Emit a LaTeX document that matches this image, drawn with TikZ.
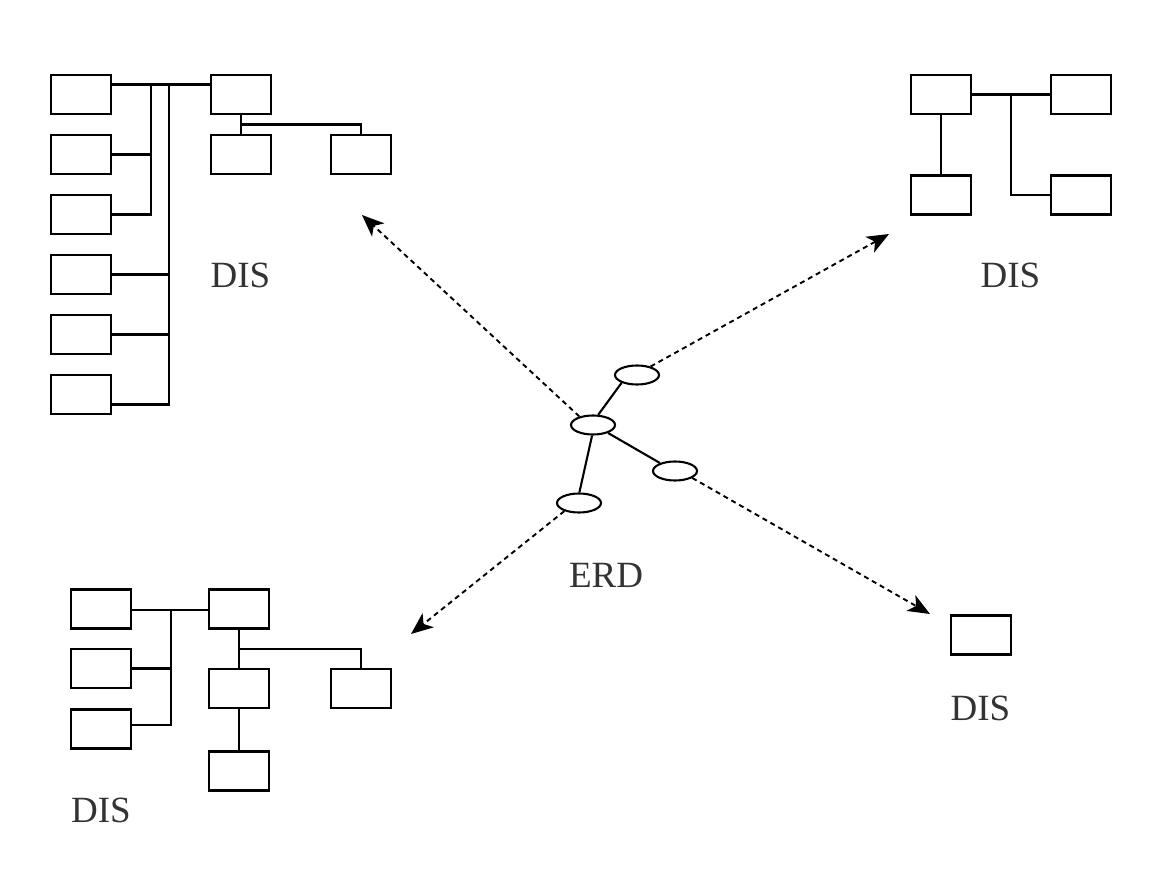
\documentclass[tikz,border=0pt]{standalone}
\usepackage{fontspec}
\setmainfont{Liberation Serif}
\usetikzlibrary{shapes.geometric,arrows.meta,calc}
\definecolor{txt}{HTML}{333333}
\tikzset{
  box/.style={draw, line width=2.4pt, minimum width=60pt, minimum height=39pt, inner sep=0pt},
  ell/.style={draw, ellipse, line width=2.1pt, minimum width=44pt, minimum height=19pt, inner sep=0pt},
  link/.style={line width=2.3pt},
  elink/.style={line width=2.1pt},
  dasharrow/.style={line width=1.9pt, dash pattern=on 5pt off 4pt, -{Stealth[length=22pt,width=18pt,inset=6pt]}},
  lbl/.style={inner sep=0pt, text=txt, font=\fontsize{37}{40}\selectfont}
}
\begin{document}
\begin{tikzpicture}[x=1pt,y=-1pt]
\useasboundingbox (0,0) rectangle (1172,882);
\fill[white] (0,0) rectangle (1172,882);

% ---- top-left cluster ----
\node[box] (L1) at (81,94.5) {};
\node[box] (L2) at (81,154.5) {};
\node[box] (L3) at (81,214.5) {};
\node[box] (L4) at (81,274.5) {};
\node[box] (L5) at (81,334.5) {};
\node[box] (L6) at (81,394.5) {};
\node[box] (T1) at (241,94.5) {};
\node[box] (T2) at (241,154.5) {};
\node[box] (T3) at (361,154.5) {};
\coordinate (b1) at (151,84.5);
\coordinate (b2) at (169,84.5);
\draw[link] ([yshift=10pt]L1.east) -- ([yshift=10pt]T1.west);
\draw[link] (L2.east) -- (L2.east -| b1);
\draw[link] (L3.east) -| (b1);
\draw[link] ([xshift=-2pt]L4.east) -- (L4.east -| b2);
\draw[link] ([xshift=-2pt]L5.east) -- (L5.east -| b2);
\draw[link] ([yshift=-10pt]L6.east) -| (b2);
\draw[link] (T1.south) -- (T2.north);
\coordinate (j1) at ($(T1.south)!0.5!(T2.north)$);
\draw[link] (j1) -| (T3.north);
\node[lbl] (dis1) at (240.5,275) {DIS};

% ---- top-right cluster ----
\node[box] (A) at (941,94.5) {};
\node[box] (B) at (1081,94.5) {};
\node[box] (C) at (941,195) {};
\node[box] (D) at (1081,195) {};
\draw[link] (A.east) -- (B.west);
\coordinate (b3) at ($(A.east)!0.5!(B.west)$);
\draw[link] (b3) |- (D.west);
\draw[link] (A.south) -- (C.north);
\node[lbl] (dis2) at (1010.5,275) {DIS};

% ---- bottom-left cluster ----
\node[box] (P1) at (101,609) {};
\node[box] (P2) at (101,668.5) {};
\node[box] (P3) at (101,729) {};
\node[box] (Q1) at (239,609) {};
\node[box] (Q2) at (239,688.5) {};
\node[box] (Q3) at (361,688.5) {};
\node[box] (Q4) at (239,771) {};
\coordinate (b4) at (171,610);
\draw[link] ([yshift=-1pt]P1.east) -- ([yshift=-1pt]Q1.west);
\draw[link] (P2.east) -- (P2.east -| b4);
\draw[link] ([yshift=4pt]P3.east) -| (b4);
\draw[link] (Q1.south) -- (Q2.north);
\coordinate (j2) at ($(Q1.south)!0.5!(Q2.north)$);
\draw[link] (j2) -| (Q3.north);
\draw[link] (Q2.south) -- (Q4.north);
\node[lbl] (dis3) at (101,810) {DIS};

% ---- bottom-right ----
\node[box] (R) at (981,635) {};
\node[lbl] (dis4) at (980.5,708.5) {DIS};

% ---- ERD ----
\node[ell] (E0) at (593,425) {};
\node[ell] (E1) at (637,375) {};
\node[ell] (E2) at (675,471) {};
\node[ell] (E3) at (579,503) {};
\draw[elink] (E0.63) -- (E1.207);
\draw[elink] (E0.332) -- (E2.152);
\draw[elink] (E0.265) -- (E3.88);
\node[lbl] (erd) at (606,575) {ERD};

\coordinate (tl) at (362,215);
\coordinate (tr) at (889,234);
\coordinate (br) at (930,614);
\coordinate (bl) at (411,634);
\draw[dasharrow] (E0.148) -- (tl);
\draw[dasharrow] (E1.32) -- (tr);
\draw[dasharrow] (E2.338) -- (br);
\draw[dasharrow] (E3.209) -- (bl);
\end{tikzpicture}
\end{document}
